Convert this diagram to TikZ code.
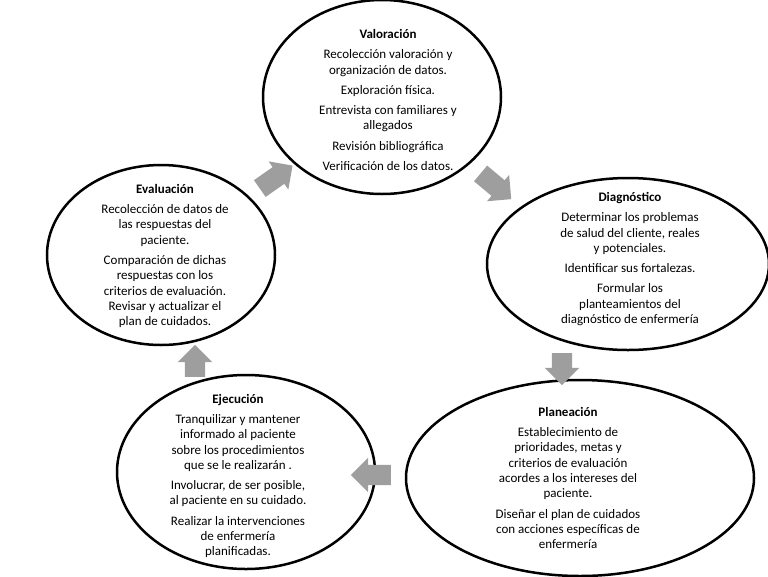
\documentclass[tikz,border=0pt]{standalone}
\usepackage{fontspec}
\setmainfont{Carlito}
\usetikzlibrary{shapes.geometric,shapes.arrows}
\tikzset{
 ell/.style={draw=black,line width=2.5pt,ellipse,inner sep=0pt},
 txt/.style={align=center,font=\fontsize{13}{15.3}\selectfont,inner sep=0pt},
 barrow/.style={single arrow,fill=black!38,draw=none,minimum height=40pt,inner xsep=0pt,inner ysep=10pt,single arrow head extend=7pt,single arrow tip angle=90}
}
\begin{document}
\begin{tikzpicture}[x=1pt,y=-1pt]
\useasboundingbox (0,0) rectangle (768,576);
\node[ell,minimum width=238pt,minimum height=194pt] (val) at (382,97) {};
\node[ell,minimum width=282pt,minimum height=172pt] (dia) at (628,264) {};
\node[ell,minimum width=348pt,minimum height=196pt] (pla) at (580,478) {};
\node[ell,minimum width=258pt,minimum height=194pt] (eje) at (246,472) {};
\node[ell,minimum width=228pt,minimum height=180pt] (eva) at (161,255) {};
\node[txt] (tval) at (388,100) {\textbf{Valoración}\\[5pt]Recolección valoración y\\organización de datos.\\[5pt]Exploración física.\\[5pt]Entrevista con familiares y\\allegados\\[5pt]Revisión bibliográfica\\[5pt]Verificación de los datos.};
\node[txt] (tdia) at (630,259) {\textbf{Diagnóstico}\\[5pt]Determinar los problemas\\de salud del cliente, reales\\y potenciales.\\[5pt]Identificar sus fortalezas.\\[5pt]Formular los\\planteamientos del\\diagnóstico de enfermería};
\node[txt] (tpla) at (568,478) {\textbf{Planeación}\\[5pt]Establecimiento de\\prioridades, metas y\\criterios de evaluación\\acordes a los intereses del\\paciente.\\[5pt]Diseñar el plan de cuidados\\con acciones específicas de\\enfermería};
\node[txt] (teje) at (238,476) {\textbf{Ejecución}\\[5pt]Tranquilizar y mantener\\informado al paciente\\sobre los procedimientos\\que se le realizarán .\\[5pt]Involucrar, de ser posible,\\al paciente en su cuidado.\\[5pt]Realizar la intervenciones\\de enfermería\\planificadas.};
\node[txt] (teva) at (165,256) {\textbf{Evaluación}\\[5pt]Recolección de datos de\\las respuestas del\\paciente.\\[5pt]Comparación de dichas\\respuestas con los\\criterios de evaluación.\\Revisar y actualizar el\\plan de cuidados.};
\node[barrow,rotate=35] (a1) at (272,180) {};
\node[barrow,rotate=-40] (a2) at (492,183) {};
\node[barrow,rotate=-90,minimum height=32pt] (a3) at (562,364) {};
\node[barrow,rotate=180] (a4) at (376,475) {};
\node[barrow,rotate=90,minimum height=32pt] (a5) at (195,366) {};
\end{tikzpicture}
\end{document}
